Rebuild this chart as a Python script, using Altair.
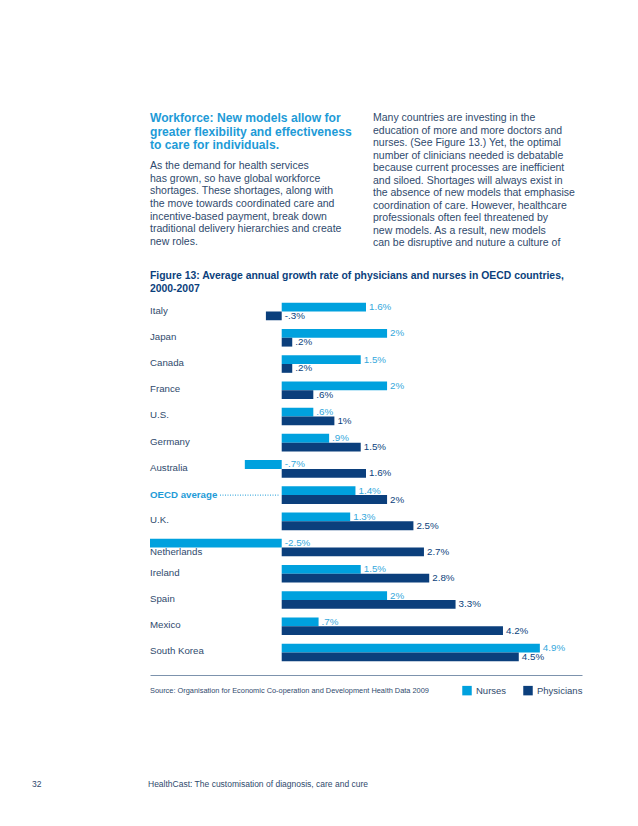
import altair as alt
import pandas as pd

# ---------------- data ----------------
countries = ["Italy", "Japan", "Canada", "France", "U.S.", "Germany", "Australia",
             "OECD average", "U.K.", "Netherlands", "Ireland", "Spain", "Mexico", "South Korea"]
nurses = [1.6, 2, 1.5, 2, 0.6, 0.9, -0.7, 1.4, 1.3, -2.5, 1.5, 2, 0.7, 4.9]
physicians = [-0.3, 0.2, 0.2, 0.6, 1, 1.5, 1.6, 2, 2.5, 2.7, 2.8, 3.3, 4.2, 4.5]
series_names = ["Nurses", "Physicians"]

heading_lines = ["Workforce: New models allow for",
                 "greater flexibility and effectiveness",
                 "to care for individuals."]
left_lines = ["As the demand for health services",
              "has grown, so have global workforce",
              "shortages. These shortages, along with",
              "the move towards coordinated care and",
              "incentive-based payment, break down",
              "traditional delivery hierarchies and create",
              "new roles."]
right_lines = ["Many countries are investing in the",
               "education of more and more doctors and",
               "nurses. (See Figure 13.) Yet, the optimal",
               "number of clinicians needed is debatable",
               "because current processes are inefficient",
               "and siloed. Shortages will always exist in",
               "the absence of new models that emphasise",
               "coordination of care. However, healthcare",
               "professionals often feel threatened by",
               "new models. As a result, new models",
               "can be disruptive and nuture a culture of"]
title_lines = ["Figure 13: Average annual growth rate of physicians and nurses in OECD countries,",
               "2000-2007"]
source_text = "Source: Organisation for Economic Co-operation and Development Health Data 2009"
page_number = "32"
footer_text = "HealthCast: The customisation of diagnosis, care and cure"


def fmt(v):
    s = f"{v:g}"
    if s.startswith("0."):
        s = s[1:]
    elif s.startswith("-0."):
        s = "-" + s[2:]
    return s + "%"


rows = []
for c, n, p in zip(countries, nurses, physicians):
    rows.append({"country": c, "series": "Nurses", "value": n, "label": fmt(n)})
    rows.append({"country": c, "series": "Physicians", "value": p, "label": fmt(p)})
df = pd.DataFrame(rows)
cdf = pd.DataFrame({"country": countries})
one = pd.DataFrame({"k": [0]})

# ---------------- style ----------------
F = "Liberation Sans"
NURSE = "#00A1DE"
PHYS = "#0B3F7C"
BODY = "#2F4A6D"
LIGHT = "#1E9BD7"
NURSE_TXT = "#35A8DC"

yscale = alt.Scale(paddingInner=0.328, paddingOuter=0.2)
xscale = alt.Scale(domain=[-2.5, 5.7], nice=False, zero=False)
xaxis = alt.Axis(orient="bottom", offset=8.5, labels=False, ticks=False, grid=False,
                 title=None, domainColor="#7D93AD", domainWidth=1)
Y = alt.Y("country:N", sort=countries, axis=None, scale=yscale)

bars = alt.Chart(df).mark_bar().encode(
    x=alt.X("value:Q", scale=xscale, axis=xaxis),
    y=Y,
    yOffset=alt.YOffset("series:N", sort=series_names),
    color=alt.Color("series:N",
                    scale=alt.Scale(domain=series_names, range=[NURSE, PHYS]),
                    legend=alt.Legend(title=None, orient="none", legendX=312, legendY=388,
                                      direction="horizontal", symbolType="square",
                                      symbolSize=90, symbolStrokeWidth=0,
                                      labelFont=F, labelFontSize=9.5, labelColor=BODY,
                                      labelOffset=4, columnPadding=16, padding=0)),
)

values = alt.Chart(df).transform_calculate(
    xpos="max(datum.value, 0)"
).mark_text(align="left", baseline="middle", dx=3, font=F, fontSize=9.8).encode(
    x=alt.X("xpos:Q", scale=xscale, axis=xaxis),
    y=Y,
    yOffset=alt.YOffset("series:N", sort=series_names),
    text="label:N",
    color=alt.condition(alt.datum.series == "Nurses", alt.value(NURSE_TXT), alt.value(PHYS)),
)

labels_main = alt.Chart(cdf).transform_filter(
    "datum.country != 'Netherlands' && datum.country != 'OECD average'"
).mark_text(align="left", baseline="middle", font=F, fontSize=9.7, color=BODY, dy=-1).encode(
    x=alt.value(0), y=Y, text="country:N")

labels_nl = alt.Chart(cdf).transform_filter("datum.country == 'Netherlands'").mark_text(
    align="left", baseline="middle", font=F, fontSize=9.7, color=BODY, dy=4.5).encode(
    x=alt.value(0), y=Y, text="country:N")

labels_oecd = alt.Chart(cdf).transform_filter("datum.country == 'OECD average'").mark_text(
    align="left", baseline="middle", font=F, fontSize=9.7, fontWeight="bold", color=LIGHT).encode(
    x=alt.value(0), y=Y, text="country:N")

leader = alt.Chart(cdf).transform_filter("datum.country == 'OECD average'").mark_rule(
    color=LIGHT, strokeWidth=1, strokeDash=[1, 1.5]).encode(
    x=alt.value(70), x2=alt.value(130), y=Y)


def block(lines, x, y, size, color, weight="normal", lh=12.5):
    return alt.Chart(one).mark_text(
        text=lines, align="left", baseline="alphabetic", font=F, fontSize=size,
        fontWeight=weight, color=color, lineHeight=lh).encode(
        x=alt.value(x), y=alt.value(y))


heading = block(heading_lines, 0, -175.6, 12.1, LIGHT, "bold", 13.7)
left_body = block(left_lines, 0, -128.1, 10.5, BODY, lh=12.55)
right_body = block(right_lines, 223, -176.5, 10.5, BODY, lh=12.54)
title = block(title_lines, 0, -18.5, 10.4, PHYS, "bold", 12.8)
source = block([source_text], 0, 395.5, 7.4, BODY)
pnum = block([page_number], -118, 489, 8.5, BODY)
footer = block([footer_text], -2, 489, 8.5, BODY)

chart = alt.layer(
    bars, values, labels_main, labels_nl, labels_oecd, leader,
    heading, left_body, right_body, title, source, pnum, footer
).properties(
    width=432, height=369,
    autosize=alt.AutoSizeParams(type="none"),
    padding={"left": 142, "top": 289.5, "right": 48, "bottom": 130},
    background="white",
).configure_view(stroke=None)

chart.save("out.html", embed_options={"renderer": "svg", "actions": False})
